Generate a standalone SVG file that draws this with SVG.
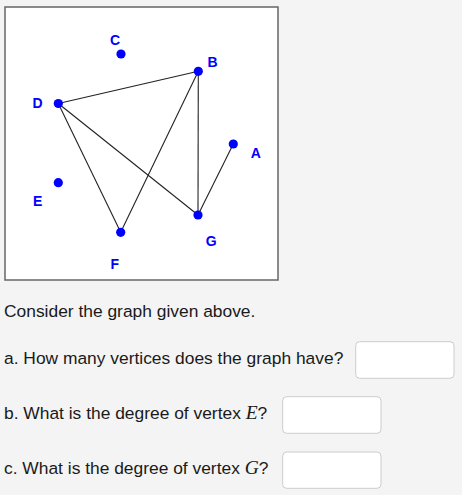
<svg xmlns="http://www.w3.org/2000/svg" width="462" height="495" viewBox="0 0 462 495">
<style>
.lbl{font-family:"Liberation Sans",Arial,sans-serif;font-weight:bold;font-size:14px;fill:#0000ff;text-anchor:middle}
.v{fill:#0000ff}
.e{stroke:#222;stroke-width:1.1;fill:none}
.q{font-family:"Liberation Sans",Arial,sans-serif;font-size:17.4px;fill:#1a1a1a}
.m{font-family:"Liberation Serif","Times New Roman",serif;font-style:italic;font-size:19.5px}
.box{fill:#fff;stroke:#ccc;stroke-width:1}
</style>
<rect x="0" y="0" width="462" height="495" fill="#f4f4f4"/>
<rect x="5" y="7" width="273" height="273" fill="#fff" stroke="#666" stroke-width="1.5"/>
<g id="edges">
<line class="e" x1="58.3" y1="103.5" x2="198.3" y2="71.3"/>
<line class="e" x1="58.3" y1="103.5" x2="120.7" y2="232.3"/>
<line class="e" x1="58.3" y1="103.5" x2="198" y2="215"/>
<line class="e" x1="198.3" y1="71.3" x2="120.7" y2="232.3"/>
<line class="e" x1="198.3" y1="71.3" x2="198" y2="215"/>
<line class="e" x1="198" y1="215" x2="233.3" y2="144"/>
</g>
<g id="node-A"><circle class="v" cx="233.3" cy="144" r="4.6"/><text class="lbl" x="255.8" y="157.5">A</text></g>
<g id="node-B"><circle class="v" cx="198.3" cy="71.3" r="4.6"/><text class="lbl" x="212.5" y="67">B</text></g>
<g id="node-C"><circle class="v" cx="121" cy="54" r="4.6"/><text class="lbl" x="115" y="45.2">C</text></g>
<g id="node-D"><circle class="v" cx="58.3" cy="103.5" r="4.6"/><text class="lbl" x="37.5" y="107.5">D</text></g>
<g id="node-E"><circle class="v" cx="58.3" cy="182.7" r="4.6"/><text class="lbl" x="37.7" y="206.2">E</text></g>
<g id="node-F"><circle class="v" cx="120.7" cy="232.3" r="4.6"/><text class="lbl" x="114.7" y="268.5">F</text></g>
<g id="node-G"><circle class="v" cx="198" cy="215" r="4.6"/><text class="lbl" x="211.3" y="245.9">G</text></g>
<text class="q" x="4" y="317">Consider the graph given above.</text>
<text class="q" x="4" y="364">a. How many vertices does the graph have?</text>
<rect class="box" x="355.7" y="341.7" width="98.3" height="36.6" rx="4"/>
<text class="q" x="4" y="418.5">b. What is the degree of vertex <tspan class="m">E</tspan>?</text>
<rect class="box" x="282.7" y="396.7" width="98.3" height="36.6" rx="4"/>
<text class="q" x="4" y="473.5">c. What is the degree of vertex <tspan class="m">G</tspan>?</text>
<rect class="box" x="282.7" y="452" width="98.3" height="36.3" rx="4"/>
</svg>
